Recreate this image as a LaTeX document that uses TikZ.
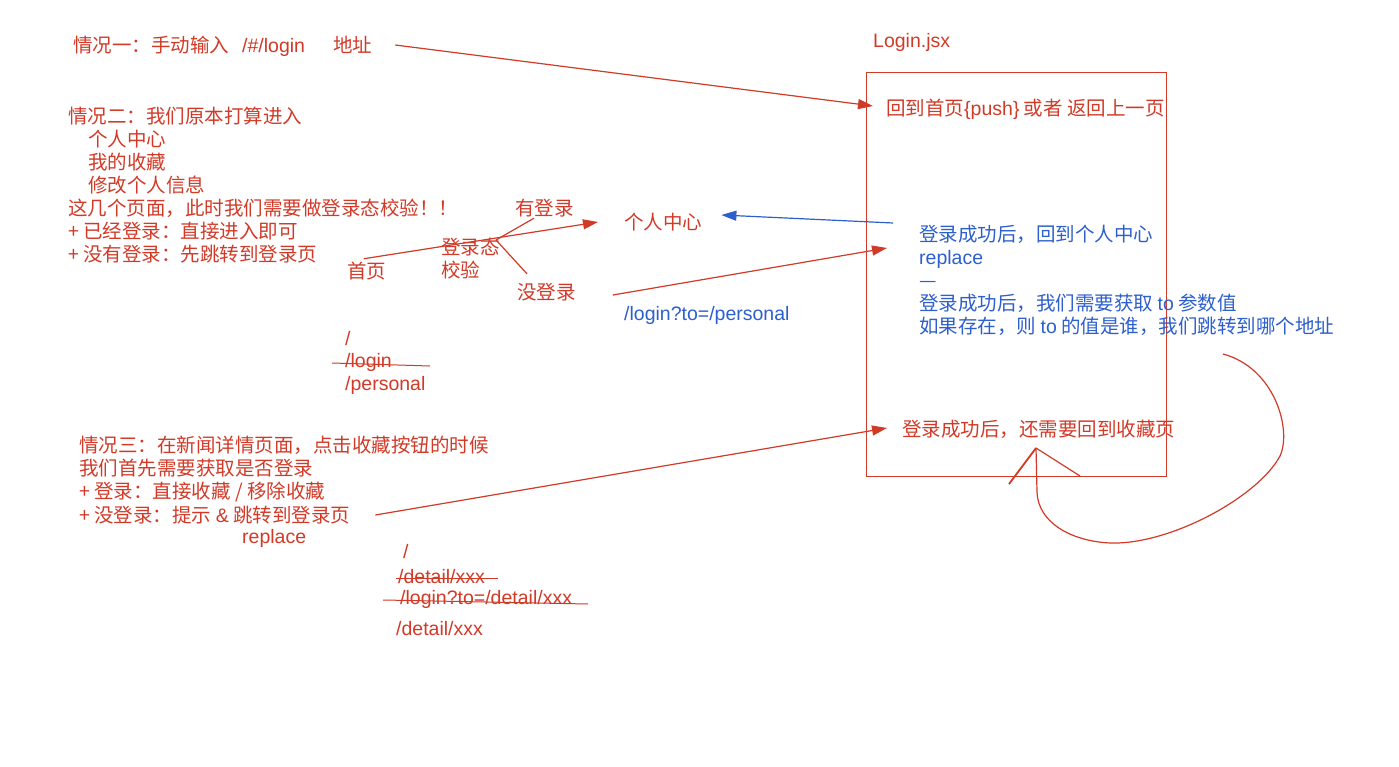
\documentclass[tikz,border=0pt]{standalone}
\usepackage{fontspec}
\setmainfont{Noto Sans CJK SC}
\newfontfamily\latfont{Liberation Sans}
\newcommand\lat[1]{{\latfont #1}}
\usepackage{tikz}
\usetikzlibrary{arrows.meta, positioning}

\definecolor{notered}{RGB}{210,58,40}
\definecolor{noteblue}{RGB}{45,95,205}

\tikzset{
  note/.style={anchor=west, inner sep=0pt, text=notered, font=\fontsize{19.5}{23}\selectfont},
  urlnote/.style={note, font=\latfont\fontsize{19.5}{23}\selectfont},
  block/.style={note, anchor=north west, align=left},
  ink/.style={draw=notered, line width=1.2pt},
  strike/.style={draw=notered, line width=1pt},
  jump/.style={ink, -{Triangle[length=15pt,width=10pt]}},
  bluejump/.style={jump, draw=noteblue, -{Triangle[length=15pt,width=10pt, fill=noteblue]}}
}

\begin{document}
\begin{tikzpicture}[x=1pt,y=-1pt]
			\useasboundingbox[fill=white] (0,0) rectangle (1399,767);

			% situation one
			\node[note] (caseone) at (73,46) {情况一：手动输入\hspace{13pt}\lat{/\#/login}\hspace{28pt}地址};

			% Login.jsx box
			\node[urlnote] (filename) at (873,42) {Login.jsx};
			\node[draw=notered, line width=1.2pt, anchor=north west, inner sep=0pt,
			  minimum width=300pt, minimum height=404pt] (loginbox) at (866,72) {};
			\node[note] (backhome) at (886,109) {回到首页\lat{\{push\}} 或者 返回上一页};

			% situation two
			\node[block] (casetwo) at (68,107) {情况二：我们原本打算进入\\
			  \hspace{20pt}个人中心\\
			  \hspace{20pt}我的收藏\\
			  \hspace{20pt}修改个人信息\\
			  这几个页面，此时我们需要做登录态校验！！\\
			  + 已经登录：直接进入即可\\
			  + 没有登录：先跳转到登录页};

			\node[note] (home) at (347,271) {首页};
			\node[block] (check) at (441,238) {登录态\\校验};
			\node[note] (haslogin) at (515,208) {有登录};
			\node[note] (nologin) at (517,292) {没登录};
			\node[note] (personal) at (624,222) {个人中心};
			\node[urlnote, text=noteblue] (topersonal) at (624,315) {/login?to=/personal};

			\node[urlnote] (slashtwo) at (345,339) {/};
			\node[urlnote] (loginold) at (345,362) {/login};
			\node[urlnote] (personalpath) at (345,385) {/personal};

			% text in the box
			\node[block, text=noteblue] (success) at (919,225) {登录成功后，回到个人中心\\
			  \lat{replace}\\
			  —\\
			  登录成功后，我们需要获取 \lat{to} 参数值\\
			  如果存在，则 \lat{to} 的值是谁，我们跳转到哪个地址};
			\node[note] (favback) at (902,429) {登录成功后，还需要回到收藏页};

			% situation three
			\node[block] (casethree) at (79,436) {情况三：在新闻详情页面，点击收藏按钮的时候\\
			  我们首先需要获取是否登录\\
			  + 登录：直接收藏 / 移除收藏};
			\node[note] (nologinthree) at (79,515) {+ 没登录：提示 \lat{\&} 跳转到登录页};
			\node[urlnote] (replacethree) at (242,538) {replace};

			\node[urlnote] (slashthree) at (403,552) {/};
			\node[urlnote] (detailold) at (398,577) {/detail/xxx};
			\node[urlnote] (tologinold) at (400,599) {/login?to=/detail/xxx};
			\node[urlnote] (detailpath) at (396,629) {/detail/xxx};

			% connectors
			\draw[jump] ([xshift=23pt,yshift=1pt]caseone.east) -- ([xshift=-13pt,yshift=3pt]backhome.west);

			\draw[jump] ([xshift=-3pt,yshift=3pt]home.north) -- ([xshift=-26pt]personal.west);
			\coordinate (fork) at (496,240);
			\draw[ink] (fork) -- ([xshift=19pt,yshift=-1pt]haslogin.south west);
			\draw[ink] (fork) -- ([xshift=10pt,yshift=9pt]nologin.north west);

			\draw[jump] ([xshift=37pt,yshift=-3pt]nologin.east) -- ([xshift=-32pt,yshift=-23pt]success.north west);
			\draw[bluejump] ([xshift=-26pt,yshift=2pt]success.north west) -- ([xshift=19pt,yshift=7pt]personal.east);

			\draw[jump] ([xshift=25pt]nologinthree.east) -- ([xshift=-15pt,yshift=1pt]favback.west);

			% crossed out paths
			\draw[strike] ([xshift=-13pt,yshift=-1pt]loginold.west) -- ([xshift=38pt,yshift=-4pt]loginold.east);
			\draw[strike] ([xshift=-2pt,yshift=-1pt]detailold.west) -- ([xshift=13pt,yshift=-1pt]detailold.east);
			\draw[strike] ([xshift=-17pt,yshift=-1pt]tologinold.west) -- ([xshift=16pt,yshift=-5pt]tologinold.east);

			% hand drawn loop back to the favourite line
			\coordinate (looptip) at (1036,448);
			\draw[ink] (1223,354) .. controls (1275,368) and (1292,430) .. (1280,456)
			  .. controls (1258,497) and (1170,545) .. (1110,543)
			  .. controls (1070,541) and (1038,522) .. (1037,492)
			  -- (looptip);
			\draw[ink] (looptip) -- (1080,476);
			\draw[ink, line width=1.8pt] (looptip) -- (1009,484);
		\end{tikzpicture}
\end{document}
